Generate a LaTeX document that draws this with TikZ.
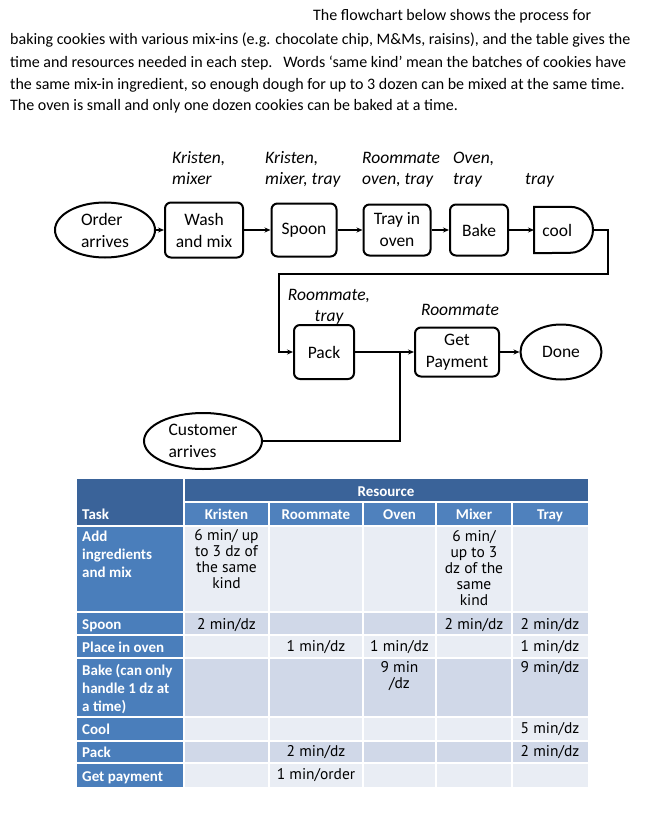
\documentclass[tikz,border=0pt]{standalone}
\usepackage{fontspec}
\setmainfont{Carlito}
\newfontfamily\handfont{PT Sans}
\usepackage{tikz}
\usetikzlibrary{arrows.meta, shapes.geometric, positioning}

\definecolor{hdrdark}{HTML}{3A6399}
\definecolor{hdrblue}{HTML}{4F81BD}
\definecolor{taskblue}{HTML}{4A7EBB}
\definecolor{celllight}{HTML}{E9EDF4}
\definecolor{celldark}{HTML}{D0D8E8}

\begin{document}
\begin{tikzpicture}[x=1pt, y=-1pt, font=\fontsize{17.5}{22}\selectfont,
  flow/.style={line width=1.8pt, -{Stealth[length=6pt,width=5pt]}},
  link/.style={line width=1.8pt},
  stepbox/.style={draw, line width=2pt, rounded corners=6pt, align=center, inner sep=0pt},
  endpoint/.style={draw, ellipse, line width=2pt, align=center, inner sep=0pt},
  who/.style={font=\fontsize{17.5}{21}\selectfont\itshape, align=left, anchor=base west, inner sep=0pt},
  para/.style={anchor=base west, inner sep=0pt, font=\fontsize{16}{22}\selectfont},
  hdr/.style={text=white, font=\fontsize{15}{18}\selectfont\bfseries, inner sep=0pt, anchor=base},
  tasklbl/.style={hdr, anchor=base west, align=left},
  val/.style={font=\fontsize{15.5}{16}\selectfont\handfont, inner sep=0pt, align=center, anchor=base},
]
\useasboundingbox[fill=white] (0,0) rectangle (666,821);

% intro text
\node[para] (p1) at (313,21) {The flowchart below shows the process for};
\node[para] (p2) at (10,45) {baking cookies with various mix-ins (e.g. chocolate chip, M\&Ms, raisins), and the table gives the};
\node[para] (p3) at (10,68) {time and resources needed in each step.\ \ \ Words `same kind' mean the batches of cookies have};
\node[para] (p4) at (10,90) {the same mix-in ingredient, so enough dough for up to 3 dozen can be mixed at the same time.};
\node[para] (p5) at (10,111) {The oven is small and only one dozen cookies can be baked at a time.};

% flowchart
\node[endpoint, minimum width=100pt, minimum height=55pt, align=left] (order) at (105,230) {Order\\arrives};
\node[stepbox, minimum width=78pt, minimum height=55pt] (wash) at (204,230) {Wash\\and mix};
\node[stepbox, minimum width=65pt, minimum height=53pt] (spoon) at (304,230) {Spoon};
\node[stepbox, minimum width=67pt, minimum height=51pt] (trayin) at (397,230) {Tray in\\oven};
\node[stepbox, minimum width=58pt, minimum height=51pt] (bake) at (479,230) {Bake};
\node[inner sep=0pt, minimum width=46pt, minimum height=46pt, anchor=west] (cool) at (534,230) {cool};
\draw[line width=2pt] (cool.north west) -- ++(36,0) arc[start angle=-90, end angle=90, radius=23]
  -- (cool.south west) -- cycle;
\coordinate (coolout) at (593,230);

\node[stepbox, minimum width=60pt, minimum height=54pt] (pack) at (324,352) {Pack};
\node[stepbox, minimum width=84pt, minimum height=49pt] (pay) at (457,352) {Get\\Payment};
\node[endpoint, minimum width=81pt, minimum height=55pt] (done) at (561,352) {Done};
\node[endpoint, minimum width=118pt, minimum height=56pt, align=left] (customer) at (203,441) {Customer\\arrives};

\node[who] (w1) at (172,185) {Kristen,\\mixer};
\node[who] (w2) at (265,185) {Kristen,\\mixer, tray};
\node[who] (w3) at (362,185) {Roommate\\oven, tray};
\node[who] (w4) at (453,185) {Oven,\\tray};
\node[who] (w5) at (525,184) {tray};
\node[who, align=center, anchor=base] (w6) at (329,321) {Roommate,\\tray};
\node[who, anchor=base] (w7) at (460,315) {Roommate};

\coordinate (turnR) at (608,274);
\coordinate (turnL) at (279,274);
\coordinate (join) at (400,352);

\draw[flow] (order) -- (wash);
\draw[flow] (wash) -- (spoon);
\draw[flow] (spoon) -- (trayin);
\draw[flow] (trayin) -- (bake);
\draw[flow] (bake) -- (cool);
\draw[flow] (coolout) -| (turnR) -- (turnL) |- (pack);
\draw[link] (pack) -- (join);
\draw[flow] (join) -- (pay);
\draw[link] (customer.east) -| (join);
\draw[flow] (pay) -- (done);

% table
\fill[hdrdark] (77,479) rectangle (588,502);
\fill[hdrdark] (77,502) rectangle (184,526);
\fill[hdrblue] (184,502) rectangle (588,526);
\fill[taskblue] (77,526) rectangle (184,787);
\fill[celllight] (184,526) rectangle (588,612);
\fill[celldark] (184,612) rectangle (588,635);
\fill[celllight] (184,635) rectangle (588,658);
\fill[celldark] (184,658) rectangle (588,717);
\fill[celllight] (184,717) rectangle (588,741);
\fill[celldark] (184,741) rectangle (588,763);
\fill[celllight] (184,763) rectangle (588,787);
\draw[white, line width=1.5pt] (184,479) -- (184,787);
\foreach \cx in {269,363,436,512}
  \draw[white, line width=1.5pt] (\cx,502) -- (\cx,787);
\draw[white, line width=1.5pt] (184,502) -- (588,502);
\foreach \ry in {526,612,635,658,717,741,763}
  \draw[white, line width=1.5pt] (77,\ry) -- (588,\ry);

\node[hdr] (resource) at (386,496) {Resource};
\node[tasklbl] (task) at (82,519) {Task};
\node[hdr] (h-kristen) at (226.5,519) {Kristen};
\node[hdr] (h-roommate) at (316,519) {Roommate};
\node[hdr] (h-oven) at (399.5,519) {Oven};
\node[hdr] (h-mixer) at (474,519) {Mixer};
\node[hdr] (h-tray) at (550,519) {Tray};

\node[tasklbl] (t-mix) at (82,577) {Add\\ingredients\\and mix};
\node[tasklbl] (t-spoon) at (82,629) {Spoon};
\node[tasklbl] (t-place) at (82,652) {Place in oven};
\node[tasklbl] (t-bake) at (82,711) {Bake (can only\\handle 1 dz at\\a time)};
\node[tasklbl] (t-cool) at (82,734) {Cool};
\node[tasklbl] (t-pack) at (82,757) {Pack};
\node[tasklbl] (t-pay) at (82,781) {Get payment};

\node[val] (mix-kristen) at (226.5,588) {6 min/ up\\to 3 dz of\\the same\\kind};
\node[val] (mix-mixer) at (474,605) {6 min/\\up to 3\\dz of the\\same\\kind};
\node[val] (spoon-kristen) at (226.5,629) {2 min/dz};
\node[val] (spoon-mixer) at (474,629) {2 min/dz};
\node[val] (spoon-tray) at (550,629) {2 min/dz};
\node[val] (place-roommate) at (316,651) {1 min/dz};
\node[val] (place-oven) at (399.5,651) {1 min/dz};
\node[val] (place-tray) at (550,651) {1 min/dz};
\node[val] (bake-oven) at (399.5,688) {9 min\\/dz};
\node[val] (bake-tray) at (550,672) {9 min/dz};
\node[val] (cool-tray) at (550,733) {5 min/dz};
\node[val] (pack-roommate) at (316,756) {2 min/dz};
\node[val] (pack-tray) at (550,756) {2 min/dz};
\node[val] (pay-roommate) at (316,779) {1 min/order};
\end{tikzpicture}
\end{document}
